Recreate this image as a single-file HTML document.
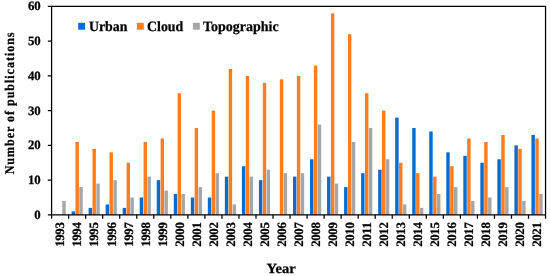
<!DOCTYPE html>
<html><head><meta charset="utf-8"><title>Number of publications per year</title>
<style>html,body{margin:0;padding:0;background:#fff}svg{display:block}text{stroke:#000;stroke-width:0.25px;text-rendering:geometricPrecision;font-family:"Liberation Serif",serif;font-weight:bold;fill:#000}</style></head><body>
<svg width="550" height="276" viewBox="0 0 550 276">
<rect width="550" height="276" fill="#fff"/>
<rect x="62.28" y="200.96" width="3.42" height="13.89" fill="#A7A6A7"/>
<rect x="71.57" y="211.38" width="3.42" height="3.47" fill="#0A6BCE"/>
<rect x="75.44" y="141.91" width="3.42" height="72.94" fill="#FF7D1E"/>
<rect x="79.31" y="187.06" width="3.42" height="27.79" fill="#A7A6A7"/>
<rect x="88.60" y="207.90" width="3.42" height="6.95" fill="#0A6BCE"/>
<rect x="92.47" y="148.86" width="3.42" height="65.99" fill="#FF7D1E"/>
<rect x="96.34" y="183.59" width="3.42" height="31.26" fill="#A7A6A7"/>
<rect x="105.63" y="204.43" width="3.42" height="10.42" fill="#0A6BCE"/>
<rect x="109.50" y="152.33" width="3.42" height="62.52" fill="#FF7D1E"/>
<rect x="113.37" y="180.12" width="3.42" height="34.73" fill="#A7A6A7"/>
<rect x="122.67" y="207.90" width="3.42" height="6.95" fill="#0A6BCE"/>
<rect x="126.54" y="162.75" width="3.42" height="52.10" fill="#FF7D1E"/>
<rect x="130.41" y="197.48" width="3.42" height="17.37" fill="#A7A6A7"/>
<rect x="139.70" y="197.48" width="3.42" height="17.37" fill="#0A6BCE"/>
<rect x="143.57" y="141.91" width="3.42" height="72.94" fill="#FF7D1E"/>
<rect x="147.44" y="176.64" width="3.42" height="38.21" fill="#A7A6A7"/>
<rect x="156.73" y="180.12" width="3.42" height="34.73" fill="#0A6BCE"/>
<rect x="160.60" y="138.44" width="3.42" height="76.41" fill="#FF7D1E"/>
<rect x="164.47" y="190.54" width="3.42" height="24.31" fill="#A7A6A7"/>
<rect x="173.77" y="194.01" width="3.42" height="20.84" fill="#0A6BCE"/>
<rect x="177.64" y="93.28" width="3.42" height="121.57" fill="#FF7D1E"/>
<rect x="181.51" y="194.01" width="3.42" height="20.84" fill="#A7A6A7"/>
<rect x="190.80" y="197.48" width="3.42" height="17.37" fill="#0A6BCE"/>
<rect x="194.67" y="128.02" width="3.42" height="86.83" fill="#FF7D1E"/>
<rect x="198.54" y="187.06" width="3.42" height="27.79" fill="#A7A6A7"/>
<rect x="207.83" y="197.48" width="3.42" height="17.37" fill="#0A6BCE"/>
<rect x="211.70" y="110.65" width="3.42" height="104.20" fill="#FF7D1E"/>
<rect x="215.57" y="173.17" width="3.42" height="41.68" fill="#A7A6A7"/>
<rect x="224.86" y="176.64" width="3.42" height="38.21" fill="#0A6BCE"/>
<rect x="228.73" y="68.97" width="3.42" height="145.88" fill="#FF7D1E"/>
<rect x="232.60" y="204.43" width="3.42" height="10.42" fill="#A7A6A7"/>
<rect x="241.90" y="166.22" width="3.42" height="48.63" fill="#0A6BCE"/>
<rect x="245.77" y="75.92" width="3.42" height="138.93" fill="#FF7D1E"/>
<rect x="249.64" y="176.64" width="3.42" height="38.21" fill="#A7A6A7"/>
<rect x="258.93" y="180.12" width="3.42" height="34.73" fill="#0A6BCE"/>
<rect x="262.80" y="82.86" width="3.42" height="131.99" fill="#FF7D1E"/>
<rect x="266.67" y="169.70" width="3.42" height="45.15" fill="#A7A6A7"/>
<rect x="279.83" y="79.39" width="3.42" height="135.46" fill="#FF7D1E"/>
<rect x="283.70" y="173.17" width="3.42" height="41.68" fill="#A7A6A7"/>
<rect x="293.00" y="176.64" width="3.42" height="38.21" fill="#0A6BCE"/>
<rect x="296.87" y="75.92" width="3.42" height="138.93" fill="#FF7D1E"/>
<rect x="300.74" y="173.17" width="3.42" height="41.68" fill="#A7A6A7"/>
<rect x="310.03" y="159.28" width="3.42" height="55.57" fill="#0A6BCE"/>
<rect x="313.90" y="65.50" width="3.42" height="149.35" fill="#FF7D1E"/>
<rect x="317.77" y="124.54" width="3.42" height="90.31" fill="#A7A6A7"/>
<rect x="327.06" y="176.64" width="3.42" height="38.21" fill="#0A6BCE"/>
<rect x="330.93" y="13.40" width="3.42" height="201.45" fill="#FF7D1E"/>
<rect x="334.80" y="183.59" width="3.42" height="31.26" fill="#A7A6A7"/>
<rect x="344.09" y="187.06" width="3.42" height="27.79" fill="#0A6BCE"/>
<rect x="347.96" y="34.24" width="3.42" height="180.61" fill="#FF7D1E"/>
<rect x="351.83" y="141.91" width="3.42" height="72.94" fill="#A7A6A7"/>
<rect x="361.13" y="173.17" width="3.42" height="41.68" fill="#0A6BCE"/>
<rect x="365.00" y="93.28" width="3.42" height="121.57" fill="#FF7D1E"/>
<rect x="368.87" y="128.02" width="3.42" height="86.83" fill="#A7A6A7"/>
<rect x="378.16" y="169.70" width="3.42" height="45.15" fill="#0A6BCE"/>
<rect x="382.03" y="110.65" width="3.42" height="104.20" fill="#FF7D1E"/>
<rect x="385.90" y="159.28" width="3.42" height="55.57" fill="#A7A6A7"/>
<rect x="395.19" y="117.60" width="3.42" height="97.25" fill="#0A6BCE"/>
<rect x="399.06" y="162.75" width="3.42" height="52.10" fill="#FF7D1E"/>
<rect x="402.93" y="204.43" width="3.42" height="10.42" fill="#A7A6A7"/>
<rect x="412.22" y="128.02" width="3.42" height="86.83" fill="#0A6BCE"/>
<rect x="416.09" y="173.17" width="3.42" height="41.68" fill="#FF7D1E"/>
<rect x="419.96" y="207.90" width="3.42" height="6.95" fill="#A7A6A7"/>
<rect x="429.26" y="131.49" width="3.42" height="83.36" fill="#0A6BCE"/>
<rect x="433.13" y="176.64" width="3.42" height="38.21" fill="#FF7D1E"/>
<rect x="437.00" y="194.01" width="3.42" height="20.84" fill="#A7A6A7"/>
<rect x="446.29" y="152.33" width="3.42" height="62.52" fill="#0A6BCE"/>
<rect x="450.16" y="166.22" width="3.42" height="48.63" fill="#FF7D1E"/>
<rect x="454.03" y="187.06" width="3.42" height="27.79" fill="#A7A6A7"/>
<rect x="463.32" y="155.80" width="3.42" height="59.05" fill="#0A6BCE"/>
<rect x="467.19" y="138.44" width="3.42" height="76.41" fill="#FF7D1E"/>
<rect x="471.06" y="200.96" width="3.42" height="13.89" fill="#A7A6A7"/>
<rect x="480.36" y="162.75" width="3.42" height="52.10" fill="#0A6BCE"/>
<rect x="484.23" y="141.91" width="3.42" height="72.94" fill="#FF7D1E"/>
<rect x="488.10" y="197.48" width="3.42" height="17.37" fill="#A7A6A7"/>
<rect x="497.39" y="159.28" width="3.42" height="55.57" fill="#0A6BCE"/>
<rect x="501.26" y="134.96" width="3.42" height="79.89" fill="#FF7D1E"/>
<rect x="505.13" y="187.06" width="3.42" height="27.79" fill="#A7A6A7"/>
<rect x="514.42" y="145.38" width="3.42" height="69.47" fill="#0A6BCE"/>
<rect x="518.29" y="148.86" width="3.42" height="65.99" fill="#FF7D1E"/>
<rect x="522.16" y="200.96" width="3.42" height="13.89" fill="#A7A6A7"/>
<rect x="531.45" y="134.96" width="3.42" height="79.89" fill="#0A6BCE"/>
<rect x="535.32" y="138.44" width="3.42" height="76.41" fill="#FF7D1E"/>
<rect x="539.19" y="194.01" width="3.42" height="20.84" fill="#A7A6A7"/>
<path d="M47.800000000000004 6.45H545.55V218.65M51.6 6.45V218.65M47.800000000000004 214.85H545.55" fill="none" stroke="#000" stroke-width="1.25"/>
<text x="40.75" y="218.85" font-size="12.8" text-anchor="end" textLength="6.35">0</text>
<text x="40.75" y="184.12" font-size="12.8" text-anchor="end" textLength="12.7">10</text>
<text x="40.75" y="149.38" font-size="12.8" text-anchor="end" textLength="12.7">20</text>
<text x="40.75" y="114.65" font-size="12.8" text-anchor="end" textLength="12.7">30</text>
<text x="40.75" y="79.92" font-size="12.8" text-anchor="end" textLength="12.7">40</text>
<text x="40.75" y="45.18" font-size="12.8" text-anchor="end" textLength="12.7">50</text>
<text x="40.75" y="10.45" font-size="12.8" text-anchor="end" textLength="12.7">60</text>
<path d="M47.800000000000004 180.12H51.6M47.800000000000004 145.38H51.6M47.800000000000004 110.65H51.6M47.800000000000004 75.92H51.6M47.800000000000004 41.18H51.6M68.63 214.85V218.65M85.67 214.85V218.65M102.70 214.85V218.65M119.73 214.85V218.65M136.76 214.85V218.65M153.80 214.85V218.65M170.83 214.85V218.65M187.86 214.85V218.65M204.89 214.85V218.65M221.93 214.85V218.65M238.96 214.85V218.65M255.99 214.85V218.65M273.03 214.85V218.65M290.06 214.85V218.65M307.09 214.85V218.65M324.12 214.85V218.65M341.16 214.85V218.65M358.19 214.85V218.65M375.22 214.85V218.65M392.26 214.85V218.65M409.29 214.85V218.65M426.32 214.85V218.65M443.35 214.85V218.65M460.39 214.85V218.65M477.42 214.85V218.65M494.45 214.85V218.65M511.48 214.85V218.65M528.52 214.85V218.65" fill="none" stroke="#000" stroke-width="1.25"/>
<text transform="translate(64.42 246.8) rotate(-90)" font-size="12.8" textLength="24.6">1993</text>
<text transform="translate(81.45 246.8) rotate(-90)" font-size="12.8" textLength="24.6">1994</text>
<text transform="translate(98.48 246.8) rotate(-90)" font-size="12.8" textLength="24.6">1995</text>
<text transform="translate(115.51 246.8) rotate(-90)" font-size="12.8" textLength="24.6">1996</text>
<text transform="translate(132.55 246.8) rotate(-90)" font-size="12.8" textLength="24.6">1997</text>
<text transform="translate(149.58 246.8) rotate(-90)" font-size="12.8" textLength="24.6">1998</text>
<text transform="translate(166.61 246.8) rotate(-90)" font-size="12.8" textLength="24.6">1999</text>
<text transform="translate(183.65 246.8) rotate(-90)" font-size="12.8" textLength="24.6">2000</text>
<text transform="translate(200.68 246.8) rotate(-90)" font-size="12.8" textLength="24.6">2001</text>
<text transform="translate(217.71 246.8) rotate(-90)" font-size="12.8" textLength="24.6">2002</text>
<text transform="translate(234.74 246.8) rotate(-90)" font-size="12.8" textLength="24.6">2003</text>
<text transform="translate(251.78 246.8) rotate(-90)" font-size="12.8" textLength="24.6">2004</text>
<text transform="translate(268.81 246.8) rotate(-90)" font-size="12.8" textLength="24.6">2005</text>
<text transform="translate(285.84 246.8) rotate(-90)" font-size="12.8" textLength="24.6">2006</text>
<text transform="translate(302.88 246.8) rotate(-90)" font-size="12.8" textLength="24.6">2007</text>
<text transform="translate(319.91 246.8) rotate(-90)" font-size="12.8" textLength="24.6">2008</text>
<text transform="translate(336.94 246.8) rotate(-90)" font-size="12.8" textLength="24.6">2009</text>
<text transform="translate(353.97 246.8) rotate(-90)" font-size="12.8" textLength="24.6">2010</text>
<text transform="translate(371.01 246.8) rotate(-90)" font-size="12.8" textLength="24.6">2011</text>
<text transform="translate(388.04 246.8) rotate(-90)" font-size="12.8" textLength="24.6">2012</text>
<text transform="translate(405.07 246.8) rotate(-90)" font-size="12.8" textLength="24.6">2013</text>
<text transform="translate(422.10 246.8) rotate(-90)" font-size="12.8" textLength="24.6">2014</text>
<text transform="translate(439.14 246.8) rotate(-90)" font-size="12.8" textLength="24.6">2015</text>
<text transform="translate(456.17 246.8) rotate(-90)" font-size="12.8" textLength="24.6">2016</text>
<text transform="translate(473.20 246.8) rotate(-90)" font-size="12.8" textLength="24.6">2017</text>
<text transform="translate(490.24 246.8) rotate(-90)" font-size="12.8" textLength="24.6">2018</text>
<text transform="translate(507.27 246.8) rotate(-90)" font-size="12.8" textLength="24.6">2019</text>
<text transform="translate(524.30 246.8) rotate(-90)" font-size="12.8" textLength="24.6">2020</text>
<text transform="translate(541.33 246.8) rotate(-90)" font-size="12.8" textLength="24.6">2021</text>
<rect x="78.2" y="22.8" width="6.9" height="6.9" fill="#0A6BCE"/>
<text x="88.9" y="30.55" font-size="14.2" textLength="38.5" lengthAdjust="spacingAndGlyphs">Urban</text>
<rect x="136.9" y="22.8" width="6.9" height="6.9" fill="#FF7D1E"/>
<text x="147.0" y="30.55" font-size="14.2" textLength="36.3" lengthAdjust="spacingAndGlyphs">Cloud</text>
<rect x="192.9" y="22.8" width="6.9" height="6.9" fill="#A7A6A7"/>
<text x="203.0" y="30.55" font-size="14.2" textLength="75.6" lengthAdjust="spacingAndGlyphs">Topographic</text>
<text transform="translate(14.0 174.3) rotate(-90) scale(0.91 1)" font-size="13.3" textLength="155.9">Number of publications</text>
<text x="266.5" y="272.8" font-size="14" textLength="29.2" lengthAdjust="spacingAndGlyphs">Year</text>
</svg></body></html>
